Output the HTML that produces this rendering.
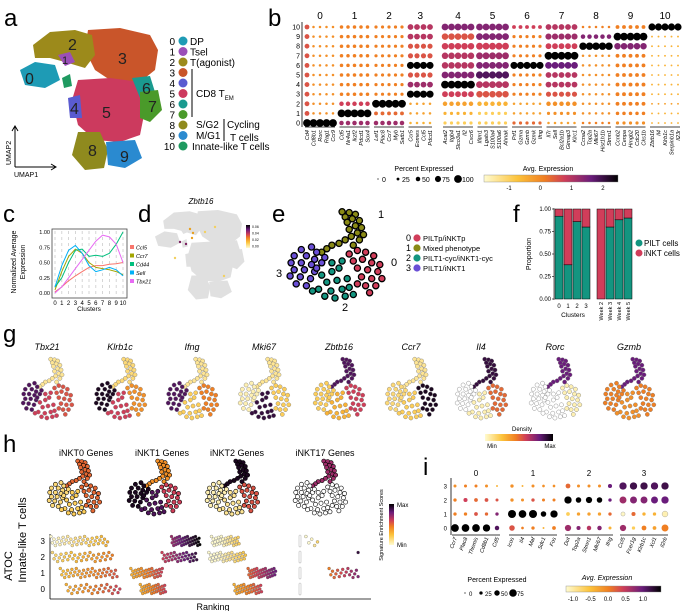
<!DOCTYPE html>
<html><head><meta charset="utf-8"><style>
html,body{margin:0;padding:0;background:#fff;}
svg{display:block;font-family:"Liberation Sans",Arial,sans-serif;}
.it{font-style:italic;}
</style></head><body>
<svg id="fig" width="685" height="611" viewBox="0 0 685 611" xmlns="http://www.w3.org/2000/svg">
<g font-size="24" fill="#000">
<text x="4" y="26">a</text>
<text x="268" y="26">b</text>
<text x="3" y="222">c</text>
<text x="138" y="222">d</text>
<text x="272" y="222">e</text>
<text x="513" y="222">f</text>
<text x="3" y="342">g</text>
<text x="3" y="452">h</text>
<text x="423" y="475">i</text>
</g>

<g id="umapA">
<path d="M88,30 L120,28 L150,35 L158,50 L155,70 L140,82 L110,80 L95,70 L85,50 Z" fill="#c9552a"/>
<path d="M33,45 L50,32 L75,30 L92,35 L95,55 L85,68 L65,62 L50,58 L35,58 Z" fill="#9c8a1b"/>
<path d="M20,70 L35,62 L55,65 L60,80 L45,88 L25,85 Z" fill="#1e9bb5"/>
<path d="M58,55 L70,52 L75,62 L65,66 Z" fill="#9b4fb8"/>
<path d="M78,80 L110,78 L140,82 L145,110 L140,135 L120,142 L95,140 L78,125 L72,100 Z" fill="#cc3a5e"/>
<path d="M132,78 L150,76 L155,92 L140,98 Z" fill="#1a9a8f"/>
<path d="M140,92 L158,90 L162,110 L150,122 L140,118 Z" fill="#4a9a2a"/>
<path d="M68,98 L80,95 L82,118 L70,118 Z" fill="#5a5bd0"/>
<path d="M78,132 L100,132 L108,150 L104,168 L85,170 L72,155 Z" fill="#8f8a1e"/>
<path d="M106,142 L135,140 L142,158 L125,168 L108,165 Z" fill="#2a8ad0"/>
<path d="M62,78 L70,74 L72,86 L64,88 Z" fill="#1f9a60"/>
<g font-size="16" fill="#222">
<text x="118" y="64">3</text><text x="68" y="50">2</text><text x="102" y="118">5</text>
<text x="25" y="84">0</text><text x="62" y="64" font-size="11">1</text><text x="142" y="94">6</text>
<text x="148" y="112">7</text><text x="70" y="114">4</text><text x="88" y="156">8</text><text x="120" y="162">9</text>
</g>
</g>
<g stroke="#000" stroke-width="1" fill="none">
<path d="M15,167 L15,127 M12,131 L15,126 L18,131"/>
<path d="M15,167 L55,167 M51,164 L56,167 L51,170"/>
</g>
<text x="0" y="0" font-size="7" transform="translate(11,165) rotate(-90)">UMAP2</text>
<text x="14" y="177" font-size="7">UMAP1</text>
<g id="legA" font-size="10"></g>
<g stroke="#000" stroke-width="1">
<line x1="192" y1="69" x2="192" y2="117"/><line x1="224" y1="119" x2="224" y2="141"/>
</g>
<g font-size="10">
<text x="196" y="97">CD8 T<tspan font-size="6" dy="3">EM</tspan></text>
<text x="196" y="128">S/G2</text><text x="196" y="139">M/G1</text>
<text x="227" y="128">Cycling</text><text x="230" y="141">T cells</text>
<text x="192" y="150">Innate-like T cells</text>
</g>

<g id="panelB"></g>
<g id="panelC"></g>
<g id="panelD"></g>
<g id="panelE"></g>
<g id="panelF"></g>
<g id="panelG"></g>
<g id="panelH"></g>
<g id="panelI"></g>

<defs>
<linearGradient id="cgrad" x1="0" x2="1" y1="0" y2="0">
<stop offset="0" stop-color="#fffbd0"/><stop offset="0.25" stop-color="#fcc33b"/><stop offset="0.45" stop-color="#f07f22"/><stop offset="0.6" stop-color="#cf3e58"/><stop offset="0.8" stop-color="#6a1c7b"/><stop offset="1" stop-color="#000"/>
</linearGradient>
<linearGradient id="cgradV" x1="0" x2="0" y1="1" y2="0">
<stop offset="0" stop-color="#fffbd0"/><stop offset="0.25" stop-color="#fcc33b"/><stop offset="0.45" stop-color="#f07f22"/><stop offset="0.6" stop-color="#cf3e58"/><stop offset="0.8" stop-color="#6a1c7b"/><stop offset="1" stop-color="#000"/>
</linearGradient>
</defs>
</svg>
<script>
const legendIds = ["0","1","2","3","4","5","6","7","8","9","10"];
const legendColors = ["#1e9bb5","#9b4fb8","#9c8a1b","#c9552a","#5a5bd0","#cc3a5e","#1a9a8f","#4a9a2a","#8f8a1e","#2a8ad0","#1f9a60"];
const legendLabels = ["DP","Tsel","T(agonist)","","","","","","S/G2","M/G1",""];

const bGroups = ["0","1","2","3","4","5","6","7","8","9","10"];
const bGenes = [["Cd4","Cd8b1","Rorc","Rag1","Ccr9"],["Cd5","Nr4a1","Ikzf2","Pdcd1","Sox4"],["Lef1","Plac8","Ccr7","Myb","Satb1"],["Ccr5","Eomes","Ccl5","Pdcd1"],["Acat2","Itgb4","Slco3a1","Il2","Cxcr6"],["Ifitm1","Lgals3","S100a4","S100a6","Ahnak"],["Prf1","Gzma","Gzmb","Gzmk","Ifng"],["Il7r","Sell","Bcl2a1b","Gimap3","Klrc1"],["Ccna2","Top2a","Mki67","Hist1h1b","Stmn1"],["Ccnb2","Cenpa","Hmgb2","Cdc20","Cks1b"],["Zbtb16","Il4","Klrb1c","Serpinb1a","Il23r"]];
const bExp = [[1,0.4,0.4,0.4,0.4,0.4,0.4,0.4,0.4,0.4,0.4],[0.7,1,0.6,0.45,0.45,0.45,0.45,0.45,0.45,0.45,0.45],[0.7,0.5,1,0.45,0.45,0.45,0.45,0.45,0.45,0.45,0.45],[0.3,0.35,0.35,1,0.7,0.55,1,0.55,0.55,0.65,0.65],[0.2,0.3,0.35,0.6,1,0.75,0.65,0.65,0.6,0.55,0.75],[0.2,0.2,0.3,0.55,0.65,0.85,0.75,0.7,0.6,0.75,0.75],[0.5,0.35,0.35,0.45,0.45,0.45,1,0.45,0.45,0.45,0.6],[0.35,0.4,0.4,0.55,0.65,0.65,0.8,1,0.6,0.7,0.65],[0.45,0.4,0.4,0.4,0.4,0.4,0.4,0.4,1,0.75,0.45],[0.4,0.45,0.45,0.45,0.45,0.45,0.45,0.45,0.75,1,0.45],[0.3,0.3,0.35,0.3,0.3,0.3,0.3,0.3,0.3,0.3,1]];
const bPct = [[1,0.2,0.2,0.2,0.2,0.2,0.2,0.2,0.2,0.2,0.2],[0.5,1,0.5,0.35,0.35,0.35,0.35,0.35,0.35,0.35,0.35],[0.5,0.4,1,0.3,0.3,0.3,0.3,0.3,0.3,0.3,0.3],[0.2,0.2,0.2,0.9,0.7,0.6,0.9,0.6,0.6,0.7,0.7],[0.3,0.3,0.5,0.7,1,0.85,0.8,0.8,0.8,0.8,0.85],[0.3,0.3,0.5,0.8,0.85,0.9,0.85,0.85,0.85,0.85,0.85],[0.3,0.2,0.2,0.3,0.3,0.3,0.9,0.3,0.3,0.3,0.4],[0.2,0.3,0.5,0.6,0.7,0.7,0.85,1,0.7,0.75,0.7],[0.2,0.2,0.2,0.2,0.2,0.2,0.2,0.2,0.95,0.5,0.2],[0.3,0.35,0.4,0.4,0.4,0.4,0.4,0.4,0.8,1,0.4],[0.1,0.1,0.1,0.1,0.1,0.1,0.1,0.1,0.1,0.1,0.9]];
const bPctLegend = ["0","25","50","75","100"];
const bColorTicks = ["-1","0","1","2"];

const cClusters = [0,1,2,3,4,5,6,7,8,9,10];
const cGenes = ["Ccl5","Ccr7","Cd44","Sell","Tbx21"];
const cColors = ["#f8766d","#a3a500","#00bf7d","#00b0f6","#e76bf3"];
const cCcl5 = [0.02,0.1,0.2,0.28,0.35,0.42,0.45,0.45,0.47,0.48,0.5];
const cCcr7 = [0.05,0.35,0.6,0.72,0.65,0.5,0.42,0.4,0.38,0.35,0.3];
const cCd44 = [0.1,0.25,0.5,0.7,0.72,0.6,0.62,0.6,0.65,0.8,1.0];
const cSell = [0.1,0.45,0.7,0.78,0.65,0.45,0.35,0.38,0.42,0.38,0.28];
const cTbx21 = [0.0,0.1,0.25,0.4,0.55,0.7,0.85,0.95,0.92,0.8,0.5];
const cYTicks = [0,0.25,0.5,0.75,1];

const eLabels = ["PILTp/iNKTp","Mixed phenotype","PILT1-cyc/iNKT1-cyc","PILT1/iNKT1"];
const eColors = ["#d13d5a","#8a8a16","#139580","#6a4fd6"];
const embX = [55,62,68,58,65,72,60,68,74,62,70,76,64,72,58,52,66,45,40,35, 25,15,30,8,20,28,5,15,25,35,8,18,28,4,14,24,10,20,30,38, 35,45,52,40,50,60,32,44,55,62,48,58,38,66,26,45,55, 62,70,78,86,66,75,84,92,70,80,90,74,84,94,78,88,70,82];
const embY = [2,3,5,8,10,12,14,18,20,22,26,28,30,34,34,38,40,40,44,48, 42,45,48,52,52,56,60,60,62,60,68,68,70,75,76,78,84,86,66,54, 74,70,66,82,80,78,90,92,90,88,100,98,98,96,92,60,58, 50,46,48,52,58,56,60,62,66,68,70,76,78,78,86,86,84,94];
const embC = [1,1,1,1,1,1,1,1,1,1,1,1,1,1,1,1,1,1,1,1, 3,3,3,3,3,3,3,3,3,3,3,3,3,3,3,3,3,3,3,3, 2,2,2,2,2,2,2,2,2,2,2,2,2,2,2,2,2, 0,0,0,0,0,0,0,0,0,0,0,0,0,0,0,0,0,0];

const fCats1 = ["0","1","2","3"];
const fPilt1 = [0.92,0.38,0.86,0.80];
const fCats2 = ["Week 2","Week 3","Week 4","Week 5"];
const fPilt2 = [0.0,0.80,0.88,0.90];
const fTicks = ["0.00","0.25","0.50","0.75","1.00"];

const gGenes = ["Tbx21","Klrb1c","Ifng","Mki67","Zbtb16","Ccr7","Il4","Rorc","Gzmb"];
const gDensity = [[0.55,0.1,0.6,0.85],[0.4,0.15,0.6,0.95],[0.45,0.1,0.2,0.85],[0.2,0.1,0.9,0.05],[0.6,0.85,0.3,0.2],[0.95,0.1,0.2,0.15],[0.5,0.9,0.05,0.0],[0.05,0.8,0.0,0.0],[0.45,0.8,0.4,0.45]];

const hSigs = ["iNKT0 Genes","iNKT1 Genes","iNKT2 Genes","iNKT17 Genes"];
const hScore = [[0.5,0.5,0.2,0.15],[0.6,0.4,0.85,0.95],[0.55,0.95,0.1,0.05],[0.0,0.7,0.0,0.0]];
const hSwarmCenter = [[0.62,0.55,0.45,0.4],[0.3,0.2,0.72,0.82],[0.62,0.85,0.28,0.25],[0,0.7,0.95,0.15]];
const hSwarmSpan = [[0.85,0.9,0.95,0.9],[0.4,0.5,0.55,0.45],[0.45,0.45,0.6,0.45],[0,0.5,0.05,0.2]];
const hSwarmColor = [[0.45,0.4,0.3,0.15],[0.45,0.45,0.75,0.85],[0.45,0.65,0.08,0.05],[0,0.6,0.9,0.02]];
const hSwarmCount = [[30,40,36,38],[32,34,32,40],[32,36,36,32],[0,18,1,5]];

const iGroups = ["0","1","2","3"];
const iGenes = [["Ccr7","Plac8","Themis","Cd8b1","Cd5"],["Icos","Il4","Maf","Sdc1","Fos"],["Dut","Top2a","Stmn1","Mki67","Ifng"],["Ccl5","Fcer1g","Klrb1c","Xcl1","Il2rb"]];
const iExp = [[[1,0.45,0.45,0.4],[1,0.45,0.6,0.45],[1,0.55,0.5,0.45],[1,0.5,0.55,0.4],[0.85,0.75,0.55,0.3]],
 [[0.55,1,0.4,0.4],[0.45,1,0.4,0.3],[0.45,1,0.55,0.4],[0.3,1,0.45,0.4],[0.45,1,0.45,0.4]],
 [[0.7,0.2,1,0.5],[0.75,0.35,1,0.4],[0.65,0.35,1,0.4],[0.75,0.35,1,0.4],[0.3,0.5,0.8,0.8]],
 [[0.7,0.02,0.7,0.85],[0.2,0.5,0.75,0.88],[0.45,0.3,0.75,0.88],[0.35,0.3,0.8,0.85],[0.45,0.05,0.8,0.88]]];
const iPct = [[[0.9,0.3,0.3,0.25],[0.9,0.3,0.4,0.25],[0.9,0.35,0.35,0.25],[0.85,0.3,0.35,0.25],[0.45,0.3,0.25,0.1]],
 [[0.6,0.95,0.3,0.3],[0.2,0.9,0.25,0.1],[0.3,0.95,0.3,0.25],[0.1,0.6,0.25,0.2],[0.35,0.85,0.25,0.2]],
 [[0.7,0.35,0.85,0.5],[0.4,0.3,0.6,0.25],[0.45,0.3,0.7,0.25],[0.45,0.3,0.6,0.25],[0.25,0.3,0.3,0.4]],
 [[0.7,0.4,0.8,0.85],[0.3,0.4,0.8,0.85],[0.5,0.3,0.8,0.85],[0.35,0.3,0.8,0.85],[0.8,0.65,0.85,0.85]]];
const iPctLegend = ["0","25","50","75"];
const iColorTicks = ["-1.0","-0.5","0.0","0.5","1.0"];

const NS = "http://www.w3.org/2000/svg";
function mk(tag, attrs, parent){const e=document.createElementNS(NS,tag);for(const k in attrs)e.setAttribute(k,attrs[k]);parent.appendChild(e);return e;}
function txt(parent,x,y,s,size,extra){const t=mk("text",Object.assign({x:x,y:y,"font-size":size},extra||{}),parent);t.textContent=s;return t;}
const stops=[[0,[255,251,208]],[0.25,[252,195,59]],[0.45,[240,127,34]],[0.6,[207,62,88]],[0.8,[106,28,123]],[1,[0,0,0]]];
function cmap(t){t=Math.max(0,Math.min(1,t));for(let i=1;i<stops.length;i++){if(t<=stops[i][0]){const a=stops[i-1],b=stops[i];const f=(t-a[0])/(b[0]-a[0]);const c=a[1].map((v,k)=>Math.round(v+(b[1][k]-v)*f));return "rgb("+c.join(",")+")";}}return "#000";}
function cmapW(t){ if(t<0.04) return "#ffffff"; return cmap(t);}

const legA=document.getElementById("legA");
legendIds.forEach((id,i)=>{
  const y=41+i*10.5;
  const t=txt(legA,175,y+4,id,10,{"text-anchor":"end"});
  
  
  const c=mk("circle",{cx:183,cy:y,r:4.5,fill:legendColors[i]},legA);
  
  
  if(legendLabels[i] && i<3){const l=txt(legA,190,y+4,legendLabels[i],10);}
});

(function(){
  const g=document.getElementById("panelB");
  const x0=307, gsp=34.5, jsp=6.5;
  const rowY=r=>123-r*9.6;
  for(let r=0;r<=10;r++){txt(g,300,rowY(r)+2.5,String(r),7,{"text-anchor":"end"});}
  mk("line",{x1:302,y1:22,x2:302,y2:127,stroke:"#000","stroke-width":0.8},g);
  bGroups.forEach((grp,gi)=>{
    const gx=x0+gi*gsp;
    const n=bGenes[gi].length;
    const h=txt(g,gx+(n-1)*jsp/2,19,grp,10,{"text-anchor":"middle"});
    
    
    mk("line",{x1:gx-2,y1:127,x2:gx+(n-1)*jsp+2,y2:127,stroke:"#000","stroke-width":0.8},g);
    bGenes[gi].forEach((gene,j)=>{
      const x=gx+j*jsp;
      for(let r=0;r<=10;r++){
        let e=bExp[gi][r], p=bPct[gi][r];
        if(gi===0&&j===0&&r>0){e=0.55;p=0.55;}
        const c=mk("circle",{cx:x,cy:rowY(r),r:0.6+p*3.3,fill:cmap(e)},g);
        
        
      }
      const t=txt(g,0,0,gene,5.5,{class:"it","text-anchor":"end",transform:"translate("+(x+2)+",130) rotate(-90)"});
      
      
    });
  });
  txt(g,424,171,"Percent Expressed",7,{"text-anchor":"middle"});
  bPctLegend.forEach((s,i)=>{const x=378+i*20;mk("circle",{cx:x,cy:179,r:0.6+(i/4)*3.3,fill:"#000"},g);txt(g,x+4,182,s,7);});
  txt(g,548,171,"Avg. Expression",7,{"text-anchor":"middle"});
  const bar=mk("rect",{x:484,y:175,width:134,height:7,fill:"url(#cgrad)",stroke:"#888","stroke-width":0.4},g);
  
  
  bColorTicks.forEach((s,i)=>{txt(g,509+i*31.3,190,s,6,{"text-anchor":"middle"});});
})();

(function(){
  const g=document.getElementById("panelC");
  const xs=i=>55+i*6.8, ys=v=>293-v*61;
  mk("rect",{x:52,y:229,width:75,height:69,fill:"#fff",stroke:"#444","stroke-width":0.8},g);
  cClusters.forEach(i=>{mk("line",{x1:xs(i),y1:231,x2:xs(i),y2:296,stroke:"#ccc","stroke-width":0.8,"stroke-dasharray":"3,3"},g);txt(g,xs(i),305,String(cClusters[i]),6,{"text-anchor":"middle"});});
  cYTicks.forEach(v=>{txt(g,50,ys(v)+2,v.toFixed(2),5.5,{"text-anchor":"end"});});
  txt(g,89,311,"Clusters",6.5,{"text-anchor":"middle"});
  txt(g,0,0,"Normalized Average",7,{"text-anchor":"middle",transform:"translate(16,262) rotate(-90)"});
  txt(g,0,0,"Expression",7,{"text-anchor":"middle",transform:"translate(25,262) rotate(-90)"});
  const series=[cCcl5,cCcr7,cCd44,cSell,cTbx21];
  series.forEach((arr,si)=>{
    let d="";arr.forEach((v,i)=>{d+=(i?"L":"M")+xs(cClusters[i]).toFixed(1)+","+ys(v).toFixed(1);});
    const p=mk("path",{d:d,fill:"none",stroke:cColors[si],"stroke-width":1,"stroke-linejoin":"round"},g);
    
    
    const y=248+si*8.5;
    mk("rect",{x:130,y:y-3,width:4,height:4,fill:cColors[si]},g);
    const t=txt(g,136,y+1.5,cGenes[si],5.5,{class:"it"});
    
    
  });
})();

(function(){
  const g=document.getElementById("panelD");
  txt(g,201,204,"Zbtb16",8,{class:"it","text-anchor":"middle"});
  const src=document.getElementById("umapA");
  const grp=mk("g",{transform:"translate(155,210) scale(0.63) translate(-20,-28)",opacity:"0.55"},g);
  src.querySelectorAll("path").forEach(p=>{mk("path",{d:p.getAttribute("d"),fill:"#c8c8c8"},grp);});
  [[190,229],[193,233],[192,238],[180,242],[186,244],[205,232],[215,227],[175,258],[224,276]].forEach((pt,i)=>{mk("circle",{cx:pt[0],cy:pt[1],r:1.2,fill:i<3?"#e8a020":(i<5?"#7a2060":"#f2d060")},g);});
  mk("rect",{x:246,y:225,width:4,height:23,fill:"url(#cgradV)"},g);
  ["0.06","0.04","0.02","0.00"].forEach((s,i)=>txt(g,252,228+i*6.5,s,3.5));
})();

function drawEmb(parent,x0,y0,w,h,r,colorFn,stroke,sw,name){
  embX.forEach((ex,k)=>{
    const c=mk("circle",{cx:(x0+ex/100*w).toFixed(1),cy:(y0+embY[k]/100*h).toFixed(1),r:r,fill:colorFn(embC[k],k),stroke:stroke,"stroke-width":sw},parent);
    
    
  });
}

(function(){
  const g=document.getElementById("panelE");
  drawEmb(g,286,210,102,88,3.1,(c)=>eColors[c],"#000",1.3,"point-e");
  txt(g,378,218,"1",11);txt(g,391,266,"0",11);txt(g,276,277,"3",11);txt(g,342,311,"2",11);
  eLabels.forEach((s,i)=>{const y=238+i*10;txt(g,411,y+3,String(i),9,{"text-anchor":"end"});mk("circle",{cx:417,cy:y,r:3.6,fill:eColors[i]},g);const t=txt(g,423,y+3,s,7.5);});
})();

(function(){
  const g=document.getElementById("panelF");
  const ys=v=>299-v*90;
  fTicks.forEach((s,i)=>{const v=i/4;txt(g,551,ys(v)+2,s,6,{"text-anchor":"end"});mk("line",{x1:552,y1:ys(v),x2:554,y2:ys(v),stroke:"#000","stroke-width":0.6},g);});
  mk("line",{x1:554,y1:208,x2:554,y2:300,stroke:"#000","stroke-width":0.6},g);
  txt(g,0,0,"Proportion",7,{"text-anchor":"middle",transform:"translate(531,254) rotate(-90)"});
  function bars(cats,vals,x0,lbls){
    cats.forEach((c,i)=>{
      const x=x0+i*9;
      const gr=mk("rect",{x:x,y:ys(vals[i]),width:8,height:vals[i]*90,fill:"#139580",stroke:"#000","stroke-width":0.5},g);
      
      
      const rd=mk("rect",{x:x,y:ys(1),width:8,height:(1-vals[i])*90,fill:"#d13d5a",stroke:"#000","stroke-width":0.5},g);
      
      
      if(lbls) txt(g,x+4,308,c,6,{"text-anchor":"middle"});
      else txt(g,0,0,c,5.5,{transform:"translate("+(x+6)+",302) rotate(-90)","text-anchor":"end"});
    });
  }
  bars(fCats1,fPilt1,555,true);
  bars(fCats2,fPilt2,597,false);
  txt(g,573,317,"Clusters",6.5,{"text-anchor":"middle"});
  mk("circle",{cx:639,cy:243,r:3.5,fill:"#139580"},g);txt(g,644,246,"PILT cells",8);
  mk("circle",{cx:639,cy:253,r:3.5,fill:"#d13d5a"},g);txt(g,644,256,"iNKT cells",8);
})();

(function(){
  const g=document.getElementById("panelG");
  const centers=[47,120,192,264,339,411,481,555,629];
  gGenes.forEach((gene,gi)=>{
    const t=txt(g,centers[gi],350,gene,9,{class:"it","text-anchor":"middle"});
    
    
    drawEmb(g,centers[gi]-26,358,54,60,2.1,(c)=>cmapW(gDensity[gi][c]),"#777",0.4,"point-g");
  });
  txt(g,522,431,"Density",6,{"text-anchor":"middle"});
  mk("rect",{x:485,y:434,width:68,height:7,fill:"url(#cgrad)"},g);
  txt(g,492,448,"Min",6,{"text-anchor":"middle"});txt(g,550,448,"Max",6,{"text-anchor":"middle"});
})();

(function(){
  const g=document.getElementById("panelH");
  const tcx=[86,162,237,325], px=[47,127,205,293];
  hSigs.forEach((s,si)=>{
    const t=txt(g,tcx[si],456,s,9,{"text-anchor":"middle"});
    
    
    drawEmb(g,px[si],460,56,54,2.1,(c)=>cmapW(hScore[si][c]),"#000",0.6,"point-h");
  });
  mk("rect",{x:389,y:504,width:5,height:41,fill:"url(#cgradV)"},g);
  txt(g,397,507,"Max",6);txt(g,397,547,"Min",6);
  txt(g,0,0,"Signature Enrichment Scores",5.5,{"text-anchor":"middle",transform:"translate(383,525) rotate(-90)"});
  txt(g,0,0,"ATOC",11,{"text-anchor":"middle",transform:"translate(12,566) rotate(-90)"});
  txt(g,0,0,"Innate-like T cells",11,{"text-anchor":"middle",transform:"translate(26,540) rotate(-90)"});
  mk("line",{x1:50,y1:534,x2:50,y2:599,stroke:"#000","stroke-width":0.8},g);
  mk("line",{x1:50,y1:599,x2:371,y2:599,stroke:"#000","stroke-width":0.8},g);
  txt(g,213,610,"Ranking",9,{"text-anchor":"middle"});
  const rowY=[589,573,557,541];
  [0,1,2,3].forEach(r=>{txt(g,45,rowY[r]+3,String(r),8,{"text-anchor":"end"});mk("rect",{x:299,y:rowY[r]-6,width:2,height:12,rx:1,fill:"none",stroke:"#bbb","stroke-width":0.6},g);});
  const rx=[[54,117],[134,197],[210,271],[303,361]];
  hSigs.forEach((s,si)=>{
    for(let r=0;r<4;r++){
      const n=hSwarmCount[si][r]; if(!n) continue;
      const W=rx[si][1]-rx[si][0];
      const cx=rx[si][0]+hSwarmCenter[si][r]*W;
      const span=hSwarmSpan[si][r]*W;
      for(let k=0;k<n;k++){
        const f=n>1?k/(n-1):0.5;
        const x=cx-span/2+f*span;
        const y=rowY[r]+(((k*7)%11)-5)*0.9;
        const shade=hSwarmColor[si][r]+(f-0.5)*0.3;
        const c=mk("circle",{cx:x.toFixed(1),cy:y.toFixed(1),r:1.5,fill:cmap(shade),stroke:"#555","stroke-width":0.3},g);
        
        
      }
    }
  });
})();

(function(){
  const g=document.getElementById("panelI");
  const gx0=[455,512,568,623], jsp=10.5;
  const rowY=r=>528-r*14;
  mk("line",{x1:451,y1:478,x2:451,y2:535,stroke:"#000","stroke-width":0.8},g);
  for(let r=0;r<4;r++) txt(g,447,rowY(r)+2.5,String(r),6,{"text-anchor":"end"});
  iGroups.forEach((grp,gi)=>{
    txt(g,gx0[gi]+2*jsp,476,grp,8,{"text-anchor":"middle"});
    mk("line",{x1:gx0[gi]-3,y1:535,x2:gx0[gi]+4*jsp+3,y2:535,stroke:"#000","stroke-width":0.8},g);
    iGenes[gi].forEach((gene,j)=>{
      const x=gx0[gi]+j*jsp;
      for(let r=0;r<4;r++){
        const c=mk("circle",{cx:x,cy:rowY(r),r:0.6+iPct[gi][j][r]*3.6,fill:cmap(iExp[gi][j][r]),stroke:iExp[gi][j][r]<0.1?"#999":"none","stroke-width":0.4},g);
        
        
      }
      txt(g,0,0,gene,5.5,{class:"it","text-anchor":"end",transform:"translate("+(x+2)+",538) rotate(-70)"});
    });
  });
  txt(g,497,582,"Percent Expressed",7,{"text-anchor":"middle"});
  iPctLegend.forEach((s,i)=>{const x=465+i*16;mk("circle",{cx:x,cy:593,r:0.6+(i/3)*3.2,fill:"#000"},g);txt(g,x+4,596,s,6);});
  txt(g,607,580,"Avg. Expression",7,{class:"it","text-anchor":"middle"});
  mk("rect",{x:566,y:586,width:95,height:6,fill:"url(#cgrad)",stroke:"#888","stroke-width":0.4},g);
  iColorTicks.forEach((s,i)=>txt(g,573+i*17.5,601,s,6,{"text-anchor":"middle"}));
})();
</script>
</body></html>
